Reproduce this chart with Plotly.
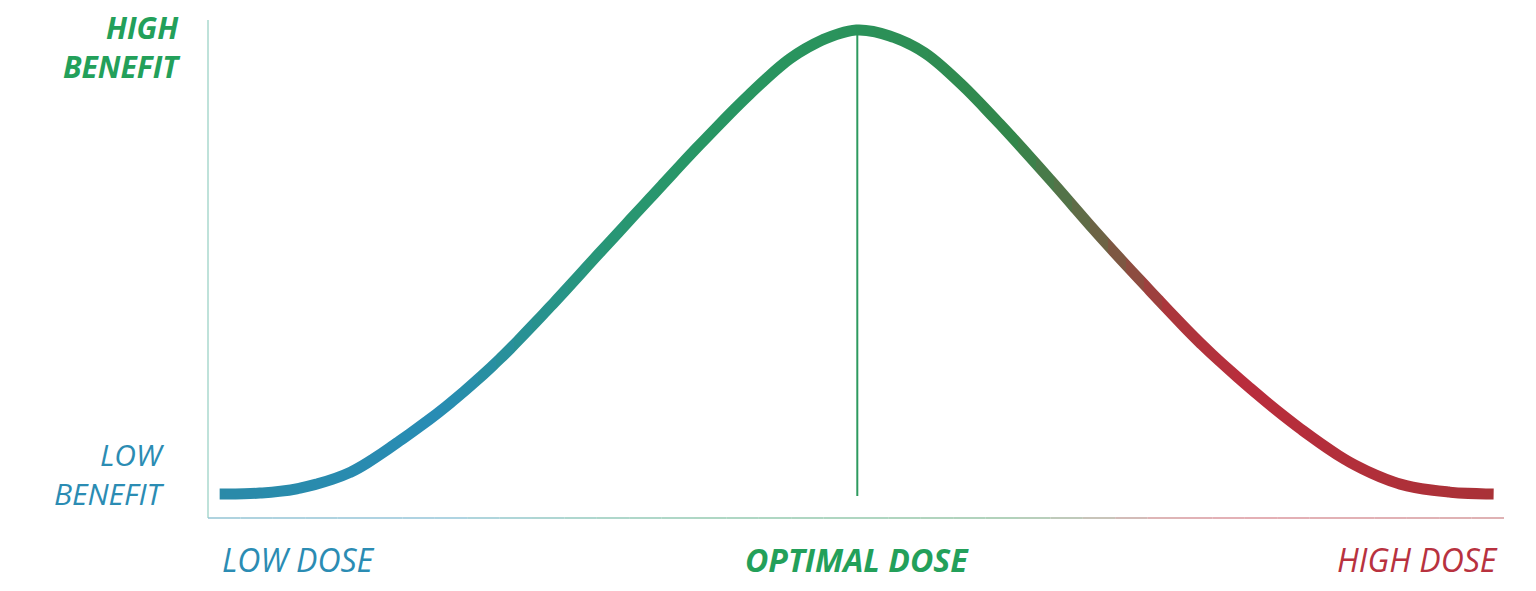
import plotly.graph_objects as go

# dose (0-100 along x) and benefit (0-100 along y)
dose = [0.9, 4.0, 7.1, 11.0, 14.8, 18.7, 22.5, 26.4, 30.2, 34.1, 38.0, 41.8, 44.9, 47.6,
        50.1, 52.6, 55.3, 58.0, 61.1, 65.0, 68.8, 72.7, 76.5, 80.4, 84.3, 88.1, 92.0, 95.8, 99.2]
benefit = [4.8, 5.0, 6.0, 9.2, 15.5, 23.1, 31.9, 42.4, 53.2, 64.2, 75.1, 85.1, 92.2, 96.2,
           98.0, 96.8, 93.4, 87.4, 79.1, 67.9, 56.6, 45.6, 35.3, 26.1, 17.9, 11.2, 6.8, 5.2, 4.8]

optimal_floor = 4.4

y_labels = ["HIGH<br>BENEFIT", "LOW<br>BENEFIT"]
x_labels = ["LOW DOSE", "OPTIMAL DOSE", "HIGH DOSE"]

BLUE = "#2b8cb3"
GREEN = "#23a05a"
RED = "#b8323f"
FONT = "Open Sans"

# colour stops along the dose axis for the curve
stops = [(0, (42, 138, 168)), (18, (40, 140, 180)), (30, (40, 150, 120)), (38, (40, 150, 100)),
         (50, (42, 146, 90)), (62, (50, 135, 75)), (68, (100, 105, 70)), (74, (170, 55, 60)),
         (80, (185, 45, 60)), (100, (168, 50, 55))]


def colour_at(x, fade=0.0):
    c = stops[-1][1]
    for (x0, c0), (x1, c1) in zip(stops[:-1], stops[1:]):
        if x0 <= x <= x1:
            t = (x - x0) / (x1 - x0)
            c = [a + (b - a) * t for a, b in zip(c0, c1)]
            break
    c = [round(v + (255 - v) * fade) for v in c]
    return "rgb(%d,%d,%d)" % tuple(c)


fig = go.Figure()

# main axes: optimal dose marker
peak = benefit.index(max(benefit))
fig.add_trace(go.Scatter(x=[dose[peak], dose[peak]], y=[optimal_floor, benefit[peak]],
                         mode="lines", line=dict(color="#2e9a5f", width=2),
                         hoverinfo="skip", showlegend=False))

# the curve is drawn once per thin vertical slice, each slice clipped to its own
# x-axis and coloured by its position, which gives the left-to-right gradient
N = 72
axes = {}
for k in range(N):
    name = "xaxis%d" % (k + 2)
    lo, hi = k * 100 / N, (k + 1) * 100 / N
    axes[name] = dict(domain=[k / N, (k + 1) / N], range=[lo, hi], visible=False,
                      anchor="y", fixedrange=True)
    fig.add_trace(go.Scatter(x=dose, y=benefit, xaxis="x%d" % (k + 2), yaxis="y",
                             mode="lines", line=dict(color=colour_at((lo + hi) / 2), width=11,
                                                     shape="spline"),
                             hoverinfo="skip", showlegend=False))

shapes = [dict(type="line", xref="paper", yref="paper", x0=0, x1=0, y0=0, y1=1,
               line=dict(color="#aad8ce", width=1.5))]
M = 40
for k in range(M):
    shapes.append(dict(type="line", xref="paper", yref="paper", x0=k / M, x1=(k + 1) / M,
                       y0=0, y1=0, line=dict(color=colour_at((k + 0.5) * 100 / M, 0.5), width=1.5)))

ann = []
for txt, y, col, bold, xr in [(y_labels[0], 0.946, GREEN, True, -0.0193),
                              (y_labels[1], 0.0885, BLUE, False, -0.0316)]:
    ann.append(dict(text=txt, x=xr, y=y, xref="paper", yref="paper", xanchor="right",
                    yanchor="middle", align="right", showarrow=False,
                    font=dict(family=FONT, size=30, color=col, style="italic",
                              weight="bold" if bold else "normal")))
for txt, x, anchor, col, bold in [(x_labels[0], 0.0093, "left", BLUE, False),
                                  (x_labels[1], dose[peak] / 100, "center", GREEN, True),
                                  (x_labels[2], 0.9969, "right", RED, False)]:
    ann.append(dict(text=txt, x=x, y=-0.0843, xref="paper", yref="paper", xanchor=anchor,
                    yanchor="middle", showarrow=False,
                    font=dict(family=FONT, size=32, color=col, style="italic",
                              weight="bold" if bold else "normal")))

fig.update_layout(
    width=1520, height=575,
    margin=dict(l=200, r=24, t=12, b=65),
    paper_bgcolor="white", plot_bgcolor="rgba(0,0,0,0)",
    xaxis=dict(domain=[0, 1], range=[0, 100], visible=False, fixedrange=True),
    yaxis=dict(range=[0, 100], visible=False, fixedrange=True, anchor="x"),
    shapes=shapes, annotations=ann, showlegend=False,
    **axes,
)

fig.write_html("out.html")
